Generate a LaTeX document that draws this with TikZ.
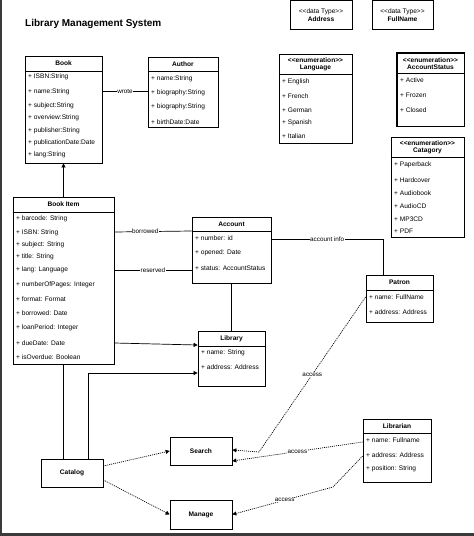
\documentclass[tikz,border=0pt]{standalone}
\usepackage{fontspec}
\setmainfont{Liberation Sans}
\usetikzlibrary{fit,arrows.meta}
\definecolor{edge}{HTML}{3A3A3A}
\tikzset{
 clsbox/.style={draw, line width=0.8pt, fill=white, inner sep=0pt},
 sepline/.style={line width=0.6pt},
 itm/.style={anchor=west, inner sep=0pt, font=\fontsize{6.6}{7}\selectfont},
 hd/.style={inner sep=0pt, font=\fontsize{6.6}{7}\selectfont\bfseries},
 st/.style={inner sep=0pt, font=\fontsize{6.6}{7}\selectfont},
 conn/.style={line width=0.7pt},
 arr/.style={conn, -{Triangle[length=4pt,width=4pt]}},
 dep/.style={line width=0.7pt, dash pattern=on 1pt off 1pt, -{Triangle[length=4pt,width=4pt]}},
 depl/.style={line width=0.7pt, dash pattern=on 1pt off 1pt},
 lbl/.style={fill=white, inner sep=0.4pt, font=\fontsize{6.3}{7}\selectfont},
}
\newcommand\umlcls[6]{\node[clsbox, fit={(#2,#3) (#4,#5)}] (#1) {};
 \draw[sepline] (#1.west |- 0,#6) -- (#1.east |- 0,#6);}
\newcommand\itm[4]{\node[itm] (#1) at (#2,#3) {#4};}
\begin{document}
\begin{tikzpicture}[x=1pt,y=-1pt]
\useasboundingbox (0,0) rectangle (474,536);
\fill[white] (0,0) rectangle (474,536);
\fill[edge] (0,0) rectangle (2,536);
\fill[edge] (0,533) rectangle (474,536);

\node[anchor=west, inner sep=0pt, font=\fontsize{10}{12}\selectfont\bfseries] (title) at (25,24) {Library Management System};

% Book
\umlcls{book}{25}{56}{102}{163}{71}
\node[hd] (bookT) at (book.north |- 0,63.5) {Book};
\itm{b1}{28}{77}{+ ISBN:String}
\itm{b2}{28}{92}{+ name:String}
\itm{b3}{28}{106}{+ subject:String}
\itm{b4}{28}{118}{+ overview:String}
\itm{b5}{28}{131}{+ publisher:String}
\itm{b6}{28}{143}{+ publicationDate:Date}
\itm{b7}{28}{155}{+ lang:String}

% Author
\umlcls{auth}{148}{57}{218}{127}{71}
\node[hd] (authT) at (auth.north |- 0,64) {Author};
\itm{a1}{151}{79}{+ name:String}
\itm{a2}{151}{93}{+ biography:String}
\itm{a3}{151}{107}{+ biography:String}
\itm{a4}{151}{122}{+ birthDate:Date}

% Data types
\node[clsbox, fit={(290,0.5) (352,29)}] (addr) {};
\node[st] (addrS) at (addr.north |- 0,12) {<{}<data Type>{}>};
\node[hd] (addrT) at (addr.north |- 0,19) {Address};
\node[clsbox, fit={(372,0.5) (433,29)}] (fname) {};
\node[st] (fnameS) at (fname.north |- 0,12) {<{}<data Type>{}>};
\node[hd] (fnameT) at (fname.north |- 0,19) {FullName};

% Language
\umlcls{lang}{279}{54}{352}{143}{74}
\node[hd] (langS) at (lang.north |- 0,60.5) {<{}<enumeration>{}>};
\node[hd] (langT) at (lang.north |- 0,68) {Language};
\itm{l1}{282}{82}{+ English}
\itm{l2}{282}{96}{+ French}
\itm{l3}{282}{110}{+ German}
\itm{l4}{282}{123}{+ Spanish}
\itm{l5}{282}{136}{+ Italian}

% AccountStatus
\umlcls{accst}{397}{53}{464}{126}{73}
\draw[line width=1.1pt] (accst.north west) rectangle (accst.south east);
\node[hd] (accstS) at (accst.north |- 0,60) {<{}<enumeration>{}>};
\node[hd] (accstT) at (accst.north |- 0,67.5) {AccountStatus};
\itm{s1}{400}{80}{+ Active}
\itm{s2}{400}{95}{+ Frozen}
\itm{s3}{400}{110}{+ Closed}

% Catagory
\umlcls{cat2}{391}{137}{464}{237}{157}
\node[hd] (cat2S) at (cat2.north |- 0,143.5) {<{}<enumeration>{}>};
\node[hd] (cat2T) at (cat2.north |- 0,151) {Catagory};
\itm{c1}{394}{165}{+ Paperback}
\itm{c2}{394}{180}{+ Hardcover}
\itm{c3}{394}{193}{+ Audiobook}
\itm{c4}{394}{206}{+ AudioCD}
\itm{c5}{394}{219}{+ MP3CD}
\itm{c6}{394}{231}{+ PDF}

% Book Item
\umlcls{bi}{13}{197}{114}{364}{212}
\node[hd] (biT) at (bi.north |- 0,204.5) {Book Item};
\itm{i1}{16}{219}{+ barcode: String}
\itm{i2}{16}{233}{+ ISBN: String}
\itm{i3}{16}{245}{+ subject: String}
\itm{i4}{16}{257}{+ title: String}
\itm{i5}{16}{270}{+ lang: Language}
\itm{i6}{16}{285}{+ numberOfPages: Integer}
\itm{i7}{16}{299}{+ format: Format}
\itm{i8}{16}{313}{+ borrowed: Date}
\itm{i9}{16}{328}{+ loanPeriod: Integer}
\itm{i10}{16}{343}{+ dueDate: Date}
\itm{i11}{16}{357}{+ isOverdue: Boolean}

% Account
\umlcls{acc}{192}{217}{271}{283}{231}
\node[hd] (accT) at (acc.north |- 0,224) {Account};
\itm{ac1}{195}{238}{+ number: id}
\itm{ac2}{195}{253}{+ opened: Date}
\itm{ac3}{195}{268}{+ status: AccountStatus}

% Patron
\umlcls{pat}{366}{275}{433}{322}{290}
\node[hd] (patT) at (pat.north |- 0,282.5) {Patron};
\itm{p1}{369}{297}{+ name: FullName}
\itm{p2}{369}{312}{+ address: Address}

% Library
\umlcls{lib}{198}{331}{265}{386}{346}
\node[hd] (libT) at (lib.north |- 0,338.5) {Library};
\itm{li1}{201}{353}{+ name: String}
\itm{li2}{201}{367}{+ address: Address}

% Librarian
\umlcls{lbr}{363}{419}{431}{482}{433}
\node[hd] (lbrT) at (lbr.north |- 0,426) {Librarian};
\itm{r1}{366}{440}{+ name: Fullname}
\itm{r2}{366}{455}{+ address: Address}
\itm{r3}{366}{469}{+ position: String}

% Simple boxes
\node[clsbox, line width=0.7pt, fit={(41,459) (103,487)}] (cat) {};
\node[hd] (catT) at (cat.center) {Catalog};
\node[clsbox, line width=0.7pt, fit={(170,437) (232,465)}] (srch) {};
\node[hd] (srchT) at (srch.center) {Search};
\node[clsbox, line width=0.7pt, fit={(170,500) (232,529)}] (mng) {};
\node[hd] (mngT) at (mng.center) {Manage};

% Corner points
\coordinate (pa1) at (259,452);
\coordinate (lm1) at (333,487);

% Connectors
\draw[arr] (bi.north) -- (book.south);
\draw[conn] (book.east |- 0,91) -- node[lbl] {wrote} (auth.west |- 0,91);
\draw[conn] (bi.east |- 0,232) -- node[lbl, pos=0.4] {borrowed} (acc.west |- 0,231);
\draw[conn] (bi.east |- 0,270) -- node[lbl, pos=0.5] {reserved} (acc.west |- 0,270);
\draw[conn] (acc.east |- 0,239) -| node[lbl, pos=0.25] {account info} (383,0 |- pat.north);
\draw[conn] (acc.south) -- (lib.north);
\draw[arr] (bi.east |- 0,343) -- (lib.west |- 0,345);
\draw[conn] (bi.south) -- (bi.south |- cat.north);
\draw[arr] (88,0 |- cat.north) |- (lib.west |- 0,373);
\draw[dep] (cat.east |- 0,466) -- (srch.west);
\draw[dep] (cat.east |- 0,480) -- (mng.west);
\draw[dep] (pat.west |- 0,297) -- node[lbl] {access} (pa1) -- (srch.east |- 0,450);
\draw[dep] (lbr.west |- 0,442) -- node[lbl] {access} (srch.east |- 0,461);
\draw[dep] (lbr.west |- 0,456) -- (lm1) -- node[lbl, pos=0.48] {access} (mng.east);
\end{tikzpicture}
\end{document}
